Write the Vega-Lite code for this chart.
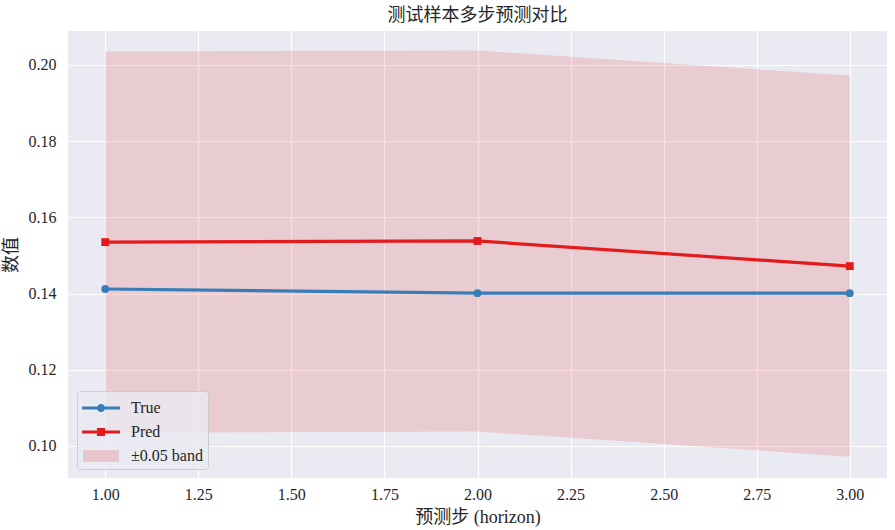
{
  "$schema": "https://vega.github.io/schema/vega-lite/v6.json",
  "description": "测试样本多步预测对比",
  "width": 819,
  "height": 447,
  "autosize": "none",
  "padding": {"left": 68, "top": 31, "right": 8, "bottom": 52},
  "background": "white",
  "title": {
    "text": "测试样本多步预测对比",
    "fontSize": 18,
    "fontWeight": "normal",
    "font": "Liberation Serif, Noto Sans CJK SC",
    "color": "#262626",
    "offset": 6
  },
  "config": {
    "view": {"fill": "#EAEAF2", "stroke": null},
    "font": "Liberation Serif, Noto Sans CJK SC",
    "axis": {
      "domain": false,
      "ticks": false,
      "grid": true,
      "gridColor": "white",
      "gridWidth": 1.2,
      "labelFont": "Liberation Serif, Noto Sans CJK SC",
      "labelFontSize": 16,
      "labelColor": "#262626",
      "titleFont": "Liberation Serif, Noto Sans CJK SC",
      "titleFontSize": 18,
      "titleFontWeight": "normal",
      "titleColor": "#262626"
    }
  },
  "datasets": {
    "lines": [
      {"h": 1, "series": "True", "value": 0.1412},
      {"h": 2, "series": "True", "value": 0.1401},
      {"h": 3, "series": "True", "value": 0.1401},
      {"h": 1, "series": "Pred", "value": 0.1535},
      {"h": 2, "series": "Pred", "value": 0.1538},
      {"h": 3, "series": "Pred", "value": 0.1472}
    ],
    "band": [
      {"h": 1, "series": "±0.05 band", "lo": 0.1035, "hi": 0.2035},
      {"h": 2, "series": "±0.05 band", "lo": 0.1038, "hi": 0.2038},
      {"h": 3, "series": "±0.05 band", "lo": 0.0972, "hi": 0.1972}
    ]
  },
  "encoding": {
    "x": {
      "field": "h",
      "type": "quantitative",
      "scale": {"domain": [0.9, 3.1], "nice": false, "zero": false},
      "axis": {
        "title": "预测步 (horizon)",
        "values": [1, 1.25, 1.5, 1.75, 2, 2.25, 2.5, 2.75, 3],
        "format": ".2f",
        "labelPadding": 8,
        "titlePadding": 6
      }
    },
    "color": {
      "field": "series",
      "type": "nominal",
      "scale": {
        "domain": ["True", "Pred", "±0.05 band"],
        "range": ["#377eb8", "#e41a1c", "#e41a1c"]
      },
      "legend": {
        "title": null,
        "orient": "bottom-left",
        "offset": 9,
        "padding": 5,
        "fillColor": "rgba(234,234,242,0.8)",
        "strokeColor": "#cccccc",
        "cornerRadius": 3,
        "symbolSize": 576,
        "symbolOffset": 7,
        "labelOffset": 18,
        "labelFontSize": 16,
        "labelColor": "#262626",
        "labelFont": "Liberation Serif, Noto Sans CJK SC",
        "rowPadding": 4,
        "encode": {
          "symbols": {
            "update": {
              "shape": {"signal": "datum.label === 'True' ? 'M-1.58,-0.125H-0.3V0.125H-1.58Z M0.3,-0.125H1.58V0.125H0.3Z M-0.34,0A0.34,0.34 0 1,1 0.34,0A0.34,0.34 0 1,1 -0.34,0Z' : datum.label === 'Pred' ? 'M-1.58,-0.125H-0.3V0.125H-1.58Z M0.3,-0.125H1.58V0.125H0.3Z M-0.34,-0.34H0.34V0.34H-0.34Z' : 'M-1.5,-0.5H1.5V0.5H-1.5Z'"},
              "fill": {"signal": "scale('color', datum.value)"},
              "fillOpacity": {"signal": "datum.label === '±0.05 band' ? 0.18 : 1"},
              "opacity": {"value": 1},
              "stroke": {"value": "transparent"},
              "strokeWidth": {"value": 0}
            }
          }
        }
      }
    }
  },
  "layer": [
    {
      "data": {"name": "band"},
      "mark": {"type": "area", "opacity": 0.15},
      "encoding": {
        "y": {
          "field": "lo",
          "type": "quantitative",
          "scale": {"domain": [0.0916, 0.2089], "nice": false, "zero": false},
          "axis": {
            "title": "数值",
            "values": [0.1, 0.12, 0.14, 0.16, 0.18, 0.2],
            "format": ".2f",
            "labelPadding": 12,
            "titlePadding": 8
          }
        },
        "y2": {"field": "hi"}
      }
    },
    {
      "data": {"name": "lines"},
      "mark": {"type": "line", "strokeWidth": 3.2},
      "encoding": {
        "y": {"field": "value", "type": "quantitative"},
        "detail": {"field": "series"}
      }
    },
    {
      "data": {"name": "lines"},
      "mark": {"type": "point", "filled": true, "opacity": 1},
      "encoding": {
        "y": {"field": "value", "type": "quantitative"},
        "shape": {
          "field": "series",
          "type": "nominal",
          "scale": {"domain": ["True", "Pred"], "range": ["circle", "square"]},
          "legend": null
        },
        "size": {"value": 62}
      }
    }
  ]
}
